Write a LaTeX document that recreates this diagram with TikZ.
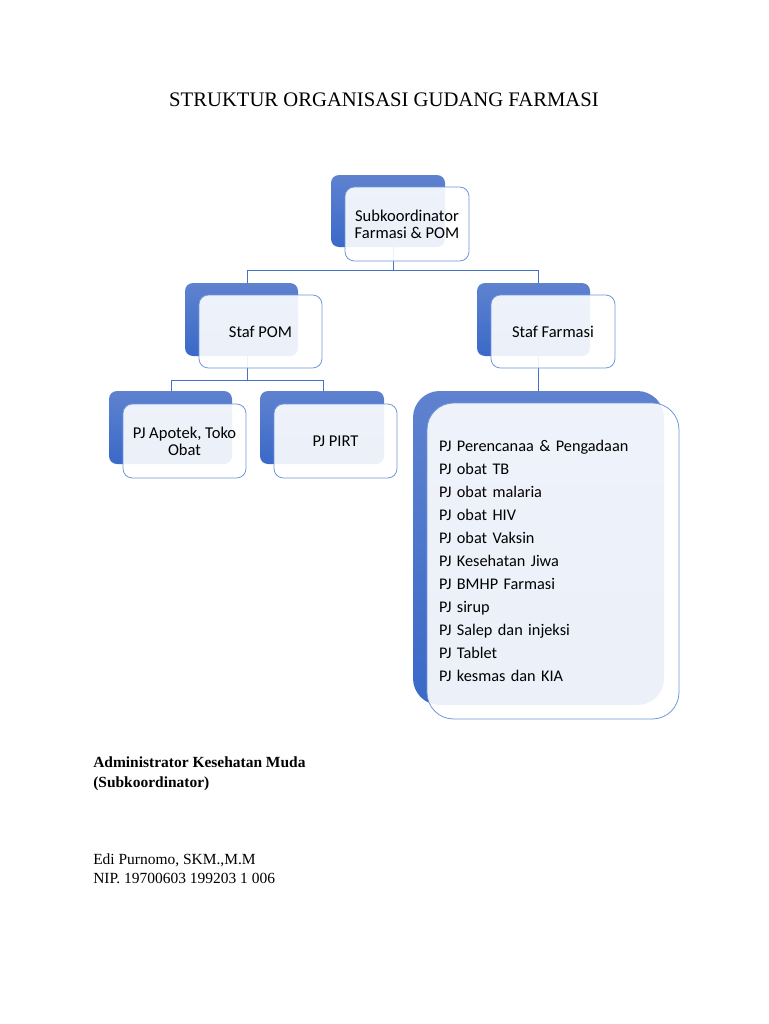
\documentclass[tikz,border=0pt]{standalone}
\usepackage{fontspec}
\setmainfont{Liberation Serif}
\newfontfamily\boxfont{Carlito}
\usetikzlibrary{backgrounds}
\definecolor{conn}{HTML}{4472C4}
\definecolor{frontline}{HTML}{7098DA}
\definecolor{backtop}{HTML}{5F82CF}
\definecolor{backbot}{HTML}{3A69C8}
\tikzset{
  backbox/.style 2 args={rectangle, rounded corners=6pt, top color=backtop, bottom color=backbot, draw=none,
     minimum width=#1*0.75pt, minimum height=#2*0.75pt, inner sep=0pt},
  frontbox/.style 2 args={rectangle, rounded corners=7pt, fill=white, fill opacity=0.9, text opacity=1,
     draw=frontline, line width=0.6pt, minimum width=#1*0.75pt, minimum height=#2*0.75pt, inner sep=0pt,
     font=\boxfont\fontsize{12.4}{12.75}\selectfont, align=center, text=black},
  connector/.style={draw=conn, line width=0.7pt},
  caption/.style={anchor=base west, inner sep=0pt, font=\fontsize{11.6}{13}\selectfont},
}
\begin{document}
\begin{tikzpicture}[x=0.75pt,y=-0.75pt]
\useasboundingbox (0,0) rectangle (768,1024);

\node[anchor=base, inner sep=0pt, font=\fontsize{15.5}{17}\selectfont] (title) at (384,106) {STRUKTUR ORGANISASI GUDANG FARMASI};

% back boxes
\node[backbox={114}{72}] (b1) at (388,211) {};
\node[backbox={113}{73}] (b2) at (241.5,319.5) {};
\node[backbox={113}{73}] (b3) at (533.5,319.5) {};
\node[backbox={123}{73}] (b4) at (170.5,427.5) {};
\node[backbox={124}{73}] (b5) at (322,427.5) {};
\node[backbox={251}{314}, rounded corners=20pt] (b6) at (538.5,548) {};

% junctions
\coordinate (j1) at (393,270);
\coordinate (j2) at (247,380);
\coordinate (j1l) at (247,270);
\coordinate (j1r) at (538,270);
\coordinate (j2l) at (171,380);
\coordinate (j2r) at (323,380);

\begin{pgfonlayer}{background}
\fill[white] (0,0) rectangle (768,1024);
\draw[connector] (j1 |- b1.south) -- (j1);
\draw[connector] (j1l) -- (j1r);
\draw[connector] (j1l) -- (j1l |- b2.north);
\draw[connector] (j1r) -- (j1r |- b3.north);
\draw[connector] (j2 |- b2.south) -- (j2);
\draw[connector] (j2l) -- (j2r);
\draw[connector] (j2l) -- (j2l |- b4.north);
\draw[connector] (j2r) -- (j2r |- b5.north);
\draw[connector] (j1r |- b3.south) -- (j1r |- b6.north);
\end{pgfonlayer}

% front boxes
\node[frontbox={124}{74}] (f1) at (407,224) {Subkoordinator\\Farmasi \& POM};
\node[frontbox={123}{73}] (f2) at (260.5,331.5) {Staf POM};
\node[frontbox={124}{73}] (f3) at (553,331.5) {Staf Farmasi};
\node[frontbox={123}{74}] (f4) at (184.5,441) {PJ Apotek, Toko\\Obat};
\node[frontbox={123}{74}] (f5) at (335.5,441) {PJ PIRT};
\node[frontbox={252}{316}, rounded corners=20pt, align=left, text width=228*0.75pt,
      font=\boxfont\fontsize{12.2}{17.25}\selectfont] (f6) at (553,561)
  {PJ Perencanaa \& Pengadaan\\PJ obat TB\\PJ obat malaria\\PJ obat HIV\\PJ obat Vaksin\\PJ Kesehatan Jiwa\\PJ BMHP Farmasi\\PJ sirup\\PJ Salep dan injeksi\\PJ Tablet\\PJ kesmas dan KIA};

% bottom texts
\node[caption, font=\bfseries\fontsize{11.6}{13}\selectfont] (t1) at (93,767) {Administrator Kesehatan Muda};
\node[caption, font=\bfseries\fontsize{11.6}{13}\selectfont] (t2) at (93,787) {(Subkoordinator)};
\node[caption] (t3) at (93,864) {Edi Purnomo, SKM.,M.M};
\node[caption] (t4) at (93,883) {NIP. 19700603 199203 1 006};
\end{tikzpicture}
\end{document}
